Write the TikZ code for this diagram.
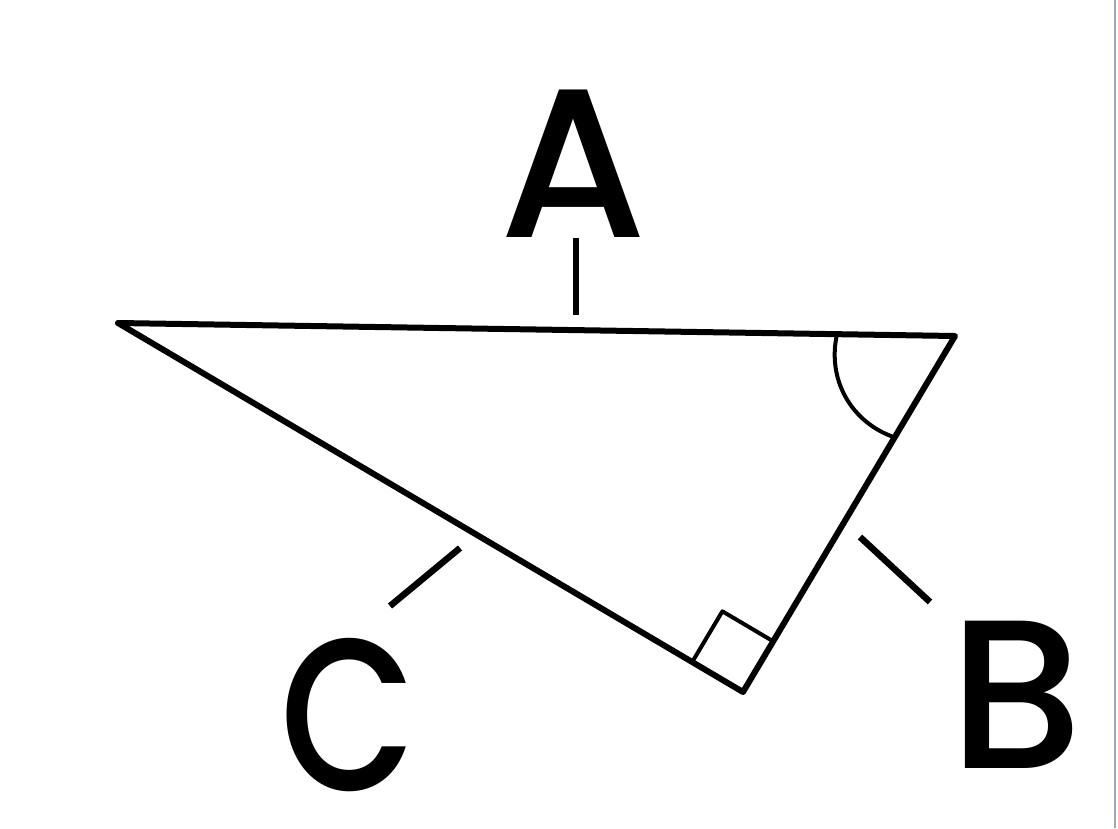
\documentclass[tikz,border=0pt]{standalone}
\usepackage{fontspec}
\usetikzlibrary{calc}
\newfontfamily\lab{Poppins}[UprightFont={* Medium}]
\definecolor{edgeline}{HTML}{9AA8B8}
\begin{document}
\begin{tikzpicture}[x=1pt,y=-1pt,
  side/.style={line width=6pt,line join=round,line cap=round},
  tickline/.style={line width=6.5pt},
  anglemark/.style={line width=4pt},
  letter/.style={font=\lab\fontsize{212}{212}\selectfont,inner sep=0pt,anchor=base}]
\useasboundingbox (0,0) rectangle (1118,828);
\fill[white] (0,0) rectangle (1118,828);
\coordinate (P) at (118,323);
\coordinate (Q) at (955,336);
\coordinate (R) at (743,692);
% right-edge line
\coordinate (e1) at (1115,0);
\coordinate (e2) at (1115,828);
\draw[edgeline,line width=1.5pt] (e1) -- (e2);
% triangle
\draw[side] (P) -- (Q) -- (R) -- cycle;
% right angle mark
\coordinate (r1) at ($(R)!59pt!(P)$);
\coordinate (r2) at ($(R)!59pt!(Q)$);
\coordinate (r3) at ($(r1)+(r2)-(R)$);
\draw[anglemark,line join=round] (r1) -- (r3) -- (r2);
% angle arc at Q
\coordinate (a1) at ($(Q)!118pt!(P)$);
\coordinate (a2) at ($(Q)!118pt!(R)$);
\draw[anglemark] (a1) to[bend right=42] (a2);
% ticks
\coordinate (ta1) at (576,238);
\coordinate (ta2) at (576,315);
\draw[tickline] (ta1) -- (ta2);
\coordinate (tb1) at (860,537);
\coordinate (tb2) at (930,602);
\draw[tickline] (tb1) -- (tb2);
\coordinate (tc1) at (390,606);
\coordinate (tc2) at (460,548);
\draw[tickline] (tc1) -- (tc2);
% labels
\node[letter] (A) at (573.5,237) {A};
\node[letter] (B) at (1016.5,768) {B};
\node[letter,xscale=0.83,yscale=1.02] (C) at (349,790) {C};
\end{tikzpicture}
\end{document}
